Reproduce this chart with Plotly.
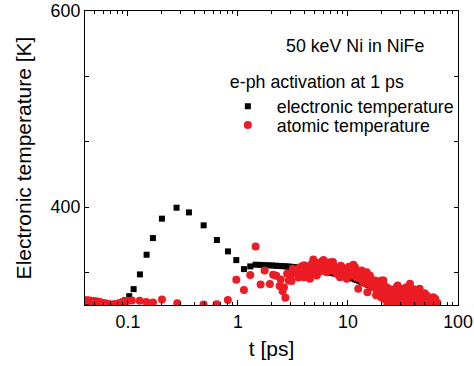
import plotly.graph_objects as go

# ---- data ----
elec_t = [0.041, 0.044, 0.047, 0.050, 0.053, 0.056, 0.060, 0.064, 0.068, 0.072, 0.076, 0.080, 0.085, 0.090, 0.095,
          0.1028, 0.1127, 0.1286, 0.1479, 0.1688, 0.2038, 0.2768, 0.3586, 0.4876, 0.644, 0.811, 0.966, 1.134, 1.294, 1.447,
          1.6, 1.75, 1.9, 2.05, 2.2, 2.35, 2.5, 2.65, 2.8, 2.95, 3.1, 3.3, 3.5, 3.7, 3.9, 4.1, 4.3, 4.5, 4.75, 5.0,
          5.25, 5.5, 5.75, 6.0, 6.3, 6.6, 6.9, 7.2, 7.5, 7.8, 8.1, 8.5, 8.9, 9.3, 9.7, 10.1, 10.6, 11.1, 11.6, 12.1,
          12.7, 13.3, 13.9, 14.5, 15.2, 15.9, 16.6, 17.3, 18.1, 18.9, 19.7, 20.6, 21.5, 22.5, 23.5, 24.5, 25.6, 26.7,
          27.9, 29.1, 30.4, 31.7, 33.1, 34.6, 36.1, 37.7, 39.4, 41.1, 42.9, 44.8, 46.8, 48.9, 51.0, 53.2, 55.5, 58.0, 60.5]
elec_T = [300.5, 300.3, 300.2, 300.0, 300.0, 300.0, 300.0, 300.2, 300.5, 300.8, 301.2, 301.8, 302.5, 303.5, 305.0,
          309.0, 316.2, 331.2, 351.3, 368.3, 388.1, 399.3, 394.5, 381.3, 366.3, 354.7, 345.8, 336.6, 339.4, 341.1,
          340.9, 340.7, 340.5, 340.3, 340.1, 339.9, 339.7, 339.5, 339.3, 339.1, 338.9, 338.6, 338.3, 338.0, 337.7, 337.4, 337.1, 336.8, 336.4, 336.0,
          335.6, 335.2, 334.8, 334.4, 334.0, 333.5, 333.0, 332.6, 332.2, 331.8, 331.3, 330.7, 330.1, 329.6, 329.1, 328.6, 327.8, 327.0, 326.2, 325.4,
          324.4, 323.4, 322.5, 321.6, 320.6, 319.6, 318.6, 317.7, 316.7, 315.8, 315.0, 314.1, 313.2, 312.3, 311.4, 310.5, 309.6, 308.8,
          308.0, 307.2, 306.5, 305.8, 305.1, 304.5, 304.0, 303.5, 303.0, 302.6, 302.2, 301.9, 301.6, 301.3, 301.0, 300.8, 300.6, 300.4, 300.2]

atom_t = [0.0405, 0.042, 0.0435, 0.045, 0.0465, 0.048, 0.050, 0.052, 0.054, 0.056, 0.058, 0.060, 0.0625, 0.065, 0.0675,
          0.070, 0.073, 0.076, 0.079, 0.082, 0.085, 0.088, 0.091, 0.094, 0.097, 0.100,
          0.1087, 0.128, 0.147, 0.169, 0.204, 0.281, 0.487, 0.64, 0.81, 0.966, 1.134, 1.294, 1.447, 1.607, 1.748, 1.95,
          2.09, 2.23, 2.39, 2.55, 2.7, 2.9, 3.07, 3.25,
          3.35, 3.45, 3.55, 3.65, 3.75, 3.85, 3.92, 4.0, 4.06, 4.15, 4.25, 4.36, 4.45, 4.51, 4.6, 4.7, 4.84, 4.95, 5.01,
          5.1, 5.2, 5.37, 5.45, 5.6, 5.77, 5.9, 5.97, 6.1, 6.25, 6.4, 6.55, 6.62, 6.75, 6.86, 7.0, 7.2, 7.4, 7.61, 7.89,
          8.0, 8.17, 8.3, 8.46, 8.7, 8.9, 9.1, 9.39, 9.6, 9.73, 9.9, 10.1, 10.4, 10.7, 11.0, 11.2, 11.4, 11.6, 11.9, 12.1,
          12.4, 12.7, 13.0, 13.3, 13.6, 13.8, 14.1, 14.5, 14.8, 15.0, 15.3, 15.8, 16.2, 16.5, 16.9, 17.3, 17.7, 18.1, 18.5,
          19.0, 19.6, 20.2, 20.6, 21.0, 21.5, 22.0, 22.5, 23.2, 23.8, 24.4, 25.0, 25.5, 26.1, 26.8, 27.2, 27.7, 28.3, 28.9,
          29.5, 30.1, 30.8, 31.4, 31.8, 32.5, 33.2, 33.9, 34.6, 35.3, 36.0, 36.6, 37.4, 38.2, 39.0, 39.8, 40.6, 41.4, 42.1,
          43.0, 43.9, 44.8, 45.7, 46.6, 47.6, 48.6, 49.6, 50.6, 51.6, 52.0, 53.1, 54.2, 55.3, 56.4, 57.6, 58.8, 59.5, 60.5,
          61.5, 62.0, 63.0, 64.0,
          22.8, 24.0, 26.5, 28.0, 30.5, 33.5, 35.0, 37.8, 40.0, 42.5, 45.0, 47.0, 50.0, 53.5, 57.0, 60.0, 63.5, 65.0,
          18.0, 19.2, 20.0, 21.2, 22.2, 23.0, 24.8, 26.0, 27.5, 29.0, 30.0, 32.0, 34.0, 35.8, 37.0, 38.6, 41.0, 43.5,
          46.0, 48.0, 51.0, 55.0, 58.0,
          2.45, 2.62, 2.8, 3.0, 3.15, 6.0, 6.8, 7.3, 8.6, 9.2, 10.2, 11.8, 12.9, 14.0, 16.0, 17.0, 18.8, 20.8]
atom_T = [304.5, 304.8, 304.5, 304.6, 304.2, 304.0, 303.8, 303.5, 303.2, 302.8, 302.4, 302.0, 301.6, 301.2, 300.8,
          300.6, 300.5, 300.6, 300.9, 301.3, 301.8, 302.4, 303.0, 303.6, 304.0, 304.3,
          304.6, 304.3, 303.0, 302.6, 305.6, 301.9, 300.5, 300.8, 305.0, 325.7, 315.2, 330.5, 359.8, 321.0, 335.3, 321.5,
          330.8, 329.8, 319.5, 314.0, 307.3, 325.0, 324.5, 333.5,
          335.0, 332.0, 328.0, 338.6, 330.0, 336.0, 340.3, 328.3, 340.3, 334.0, 337.0, 335.2, 331.0, 326.7, 338.0, 342.0, 346.4, 339.0, 336.9,
          343.0, 330.0, 333.4, 341.0, 338.0, 344.4, 335.0, 337.6, 343.4, 339.0, 333.4, 340.0, 339.3, 336.0, 343.7, 338.0, 335.0, 340.0, 336.9, 331.8,
          338.0, 333.4, 336.0, 328.3, 335.0, 338.0, 333.0, 331.8, 336.0, 326.7, 334.0, 333.4, 336.9, 330.0, 335.0, 341.0, 332.0, 338.6, 328.0, 331.0,
          316.5, 327.0, 332.0, 335.2, 324.0, 326.7, 330.0, 322.0, 333.4, 313.0, 326.0, 330.1, 320.0, 325.0, 323.2, 318.0, 325.0, 321.0, 315.0,
          322.0, 316.5, 325.0, 319.0, 324.9, 312.0, 318.0, 318.1, 314.7, 309.0, 316.0, 304.5, 312.0, 307.0, 314.0, 302.0, 318.1, 320.0, 311.0,
          305.0, 315.0, 309.0, 302.0, 316.5, 312.0, 306.0, 318.0, 310.0, 303.0, 314.0, 321.6, 308.0, 312.0, 304.0, 316.0, 309.0, 301.5, 313.0,
          307.0, 302.0, 316.5, 311.0, 304.0, 309.0, 301.0, 312.0, 306.0, 302.0, 309.6, 305.0, 301.0, 307.0, 303.0, 306.0, 301.0, 308.0, 304.0,
          301.5, 306.3, 303.0, 301.0,
          301.0, 300.5, 300.8, 301.5, 300.5, 301.0, 300.0, 300.8, 300.5, 300.8, 301.0, 300.5, 300.6, 300.2, 300.5, 300.8, 300.5, 302.0,
          310.0, 312.0, 308.0, 306.0, 310.0, 305.0, 311.0, 309.0, 306.0, 314.0, 304.0, 307.0, 313.0, 308.0, 304.0, 309.0, 306.0, 310.0,
          307.0, 305.0, 307.0, 304.0, 307.0,
          326.0, 318.0, 332.0, 330.0, 337.0, 346.0, 341.0, 344.0, 340.0, 337.0, 339.0, 335.0, 329.0, 327.0, 328.0, 320.0, 319.0, 321.0]

x_major = [0.1, 1, 10, 100]
x_major_text = ["0.1", "1", "10", "100"]
x_minor = [0.05, 0.06, 0.07, 0.08, 0.09, 0.2, 0.3, 0.4, 0.5, 0.6, 0.7, 0.8, 0.9,
           2, 3, 4, 5, 6, 7, 8, 9, 20, 30, 40, 50, 60, 70, 80, 90]
y_ticks = [333.33, 400, 466.67, 533.33, 600]
y_tick_text = ["", "400", "", "", "600"]

FONT = "Liberation Sans, Arial, sans-serif"
FS = 17.8
RED = "#ec1c24"

fig = go.Figure()
fig.add_trace(go.Scatter(x=elec_t, y=elec_T, mode="markers", name="\u2002electronic temperature",
                         legend="legend",
                         marker=dict(symbol="square", size=6, color="black", line=dict(width=0))))
fig.add_trace(go.Scatter(x=atom_t, y=atom_T, mode="markers", name="\u2002atomic temperature",
                         legend="legend2",
                         marker=dict(symbol="circle", size=8, color=RED, line=dict(width=0))))

fig.update_layout(
    width=474, height=366,
    margin=dict(l=85, r=16, t=11, b=61),
    paper_bgcolor="white", plot_bgcolor="white",
    font=dict(family=FONT, size=FS, color="black"),
    showlegend=True,
    legend=dict(x=0.383, y=0.816, xanchor="left", yanchor="top",
                bgcolor="rgba(0,0,0,0)",
                title=dict(text="e-ph activation at 1 ps", font=dict(size=FS)),
                font=dict(size=FS)),
    legend2=dict(x=0.383, y=0.674, xanchor="left", yanchor="top",
                 bgcolor="rgba(0,0,0,0)", font=dict(size=FS)),
    annotations=[dict(text="50 keV Ni in NiFe", xref="paper", yref="paper",
                      x=0.724, y=0.882, xanchor="center", yanchor="middle",
                      showarrow=False, font=dict(size=FS))],
)
fig.update_xaxes(type="log", range=[-1.39, 2.0], automargin=False,
                 tickvals=x_major, ticktext=x_major_text,
                 ticks="inside", ticklen=5, tickwidth=1.2, tickcolor="black",
                 minor=dict(tickvals=x_minor, ticks="inside", ticklen=3, tickwidth=1.2, tickcolor="black"),
                 showline=True, linecolor="black", linewidth=1.3, mirror="ticks",
                 showgrid=False, zeroline=False,
                 title=dict(text="t [ps]", standoff=10))
fig.update_yaxes(range=[300, 600], automargin=False,
                 tickvals=y_ticks, ticktext=y_tick_text,
                 ticks="inside", ticklen=4, tickwidth=1.2, tickcolor="black",
                 showline=True, linecolor="black", linewidth=1.3, mirror="ticks",
                 showgrid=False, zeroline=False,
                 title=dict(text="Electronic temperature [K]", standoff=13))

fig.write_html("out.html", config={"displayModeBar": False},
               post_script="document.body.style.margin='0';")
